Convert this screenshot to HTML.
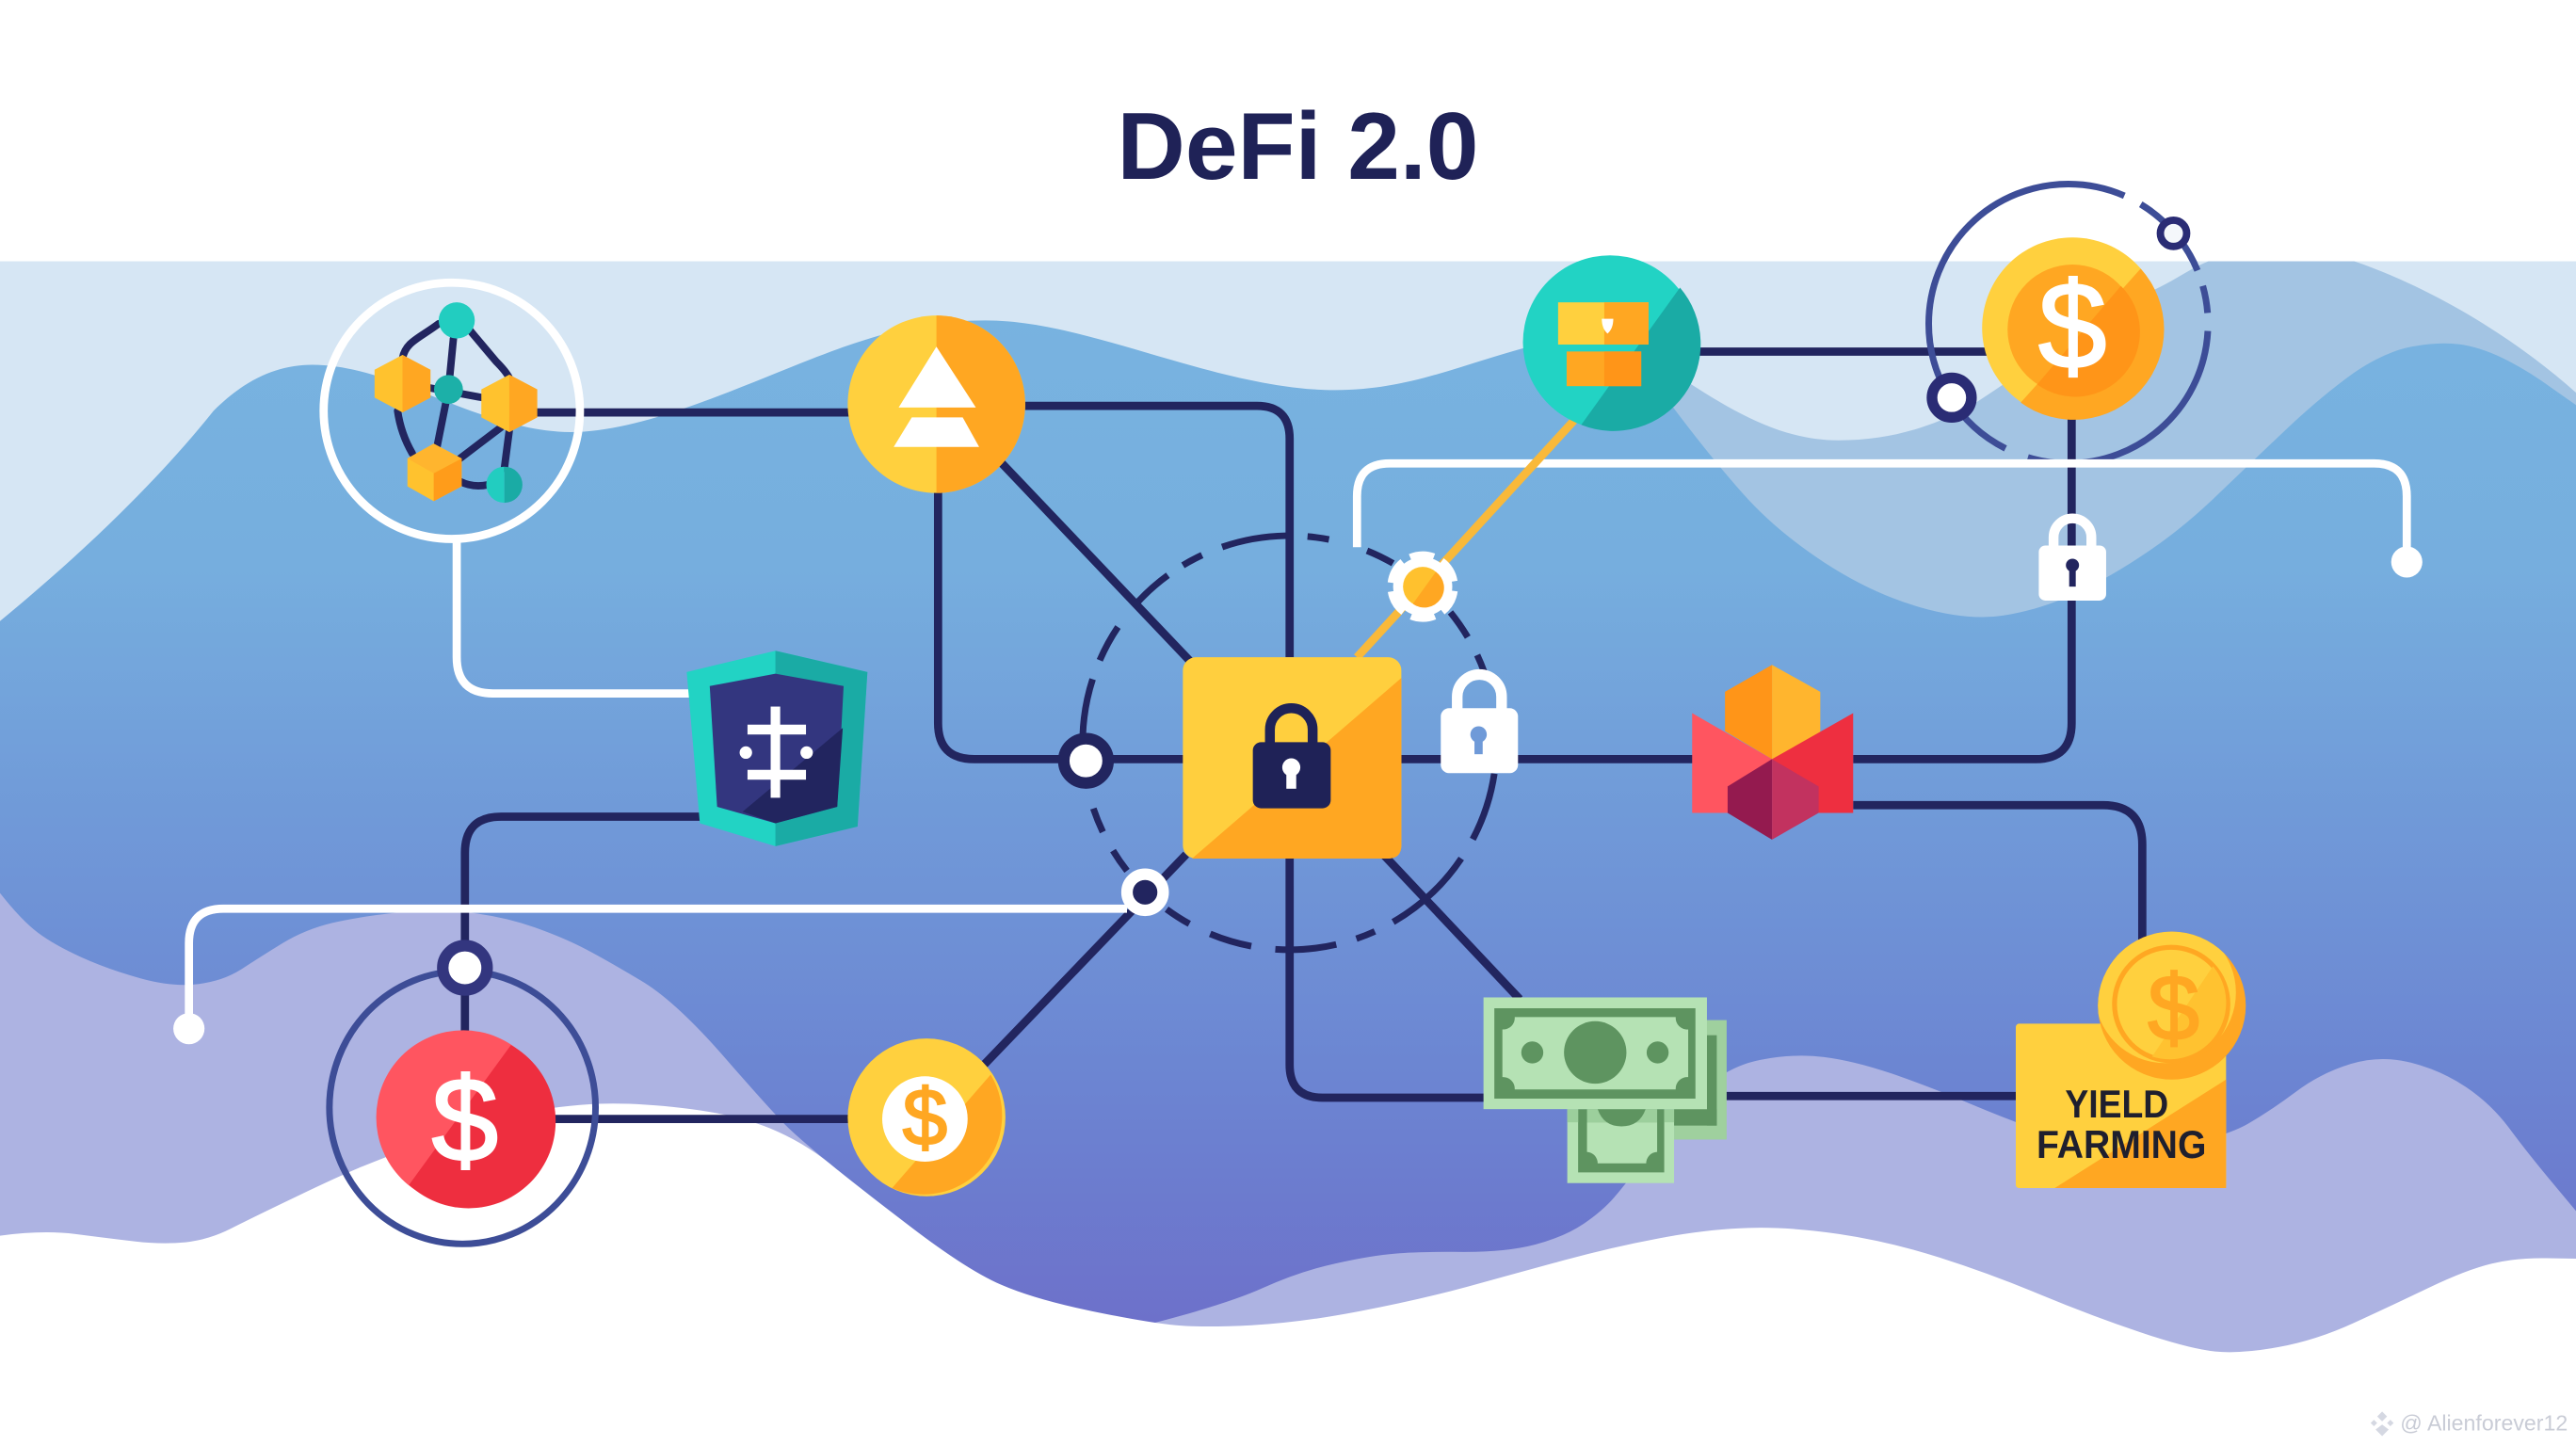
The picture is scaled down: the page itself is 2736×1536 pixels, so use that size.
<!DOCTYPE html>
<html><head><meta charset="utf-8"><title>DeFi 2.0</title>
<style>html,body{margin:0;padding:0;background:#fff;width:2736px;height:1536px;overflow:hidden}svg{display:block}text{font-family:"Liberation Sans",sans-serif}</style>
</head><body>
<svg xmlns="http://www.w3.org/2000/svg" width="2736" height="1536" viewBox="0 0 1568 880" preserveAspectRatio="none">
<defs>
<linearGradient id="main" x1="0" y1="190" x2="0" y2="810" gradientUnits="userSpaceOnUse">
<stop offset="0" stop-color="#78b3e0"/><stop offset=".25" stop-color="#76aede"/><stop offset=".5" stop-color="#7099d8"/><stop offset=".75" stop-color="#6c85d2"/><stop offset="1" stop-color="#6d70ca"/>
</linearGradient>
<clipPath id="yc"><circle cx="1322" cy="612" r="45"/></clipPath>
</defs>
<rect width="1568" height="880" fill="#fff"/>
<rect y="159" width="1568" height="640" fill="#d6e6f4"/>
<!-- medium wave -->
<path d="M1000 215C1040 240 1075 268 1119 268C1150 268 1175 260 1198 248C1240 222 1275 190 1312 176C1330 168 1340 156 1370 153C1400 150 1420 155 1433 159C1480 175 1530 205 1568 239V500H1000Z" fill="#a3c4e3"/>
<!-- main wave -->
<path d="M0 378C40 345 90 300 130 250C150 230 170 222 190 222C240 222 290 262 347 263C400 263 470 225 523 208C550 199 575 195 600 195C660 195 730 232 800 237C850 240 880 225 927 212C960 205 990 225 1017 246Q1041 278 1061 300.500Q1081 323 1110 342Q1139 361 1168.500 369.500Q1198 378 1220 374.500Q1242 371 1263.500 361Q1285 351 1307 336Q1329.500 321 1352 299Q1375 277 1394 259Q1413.600 240.700 1432.600 227Q1451.700 214 1468 211Q1484 208 1496.500 209.500Q1509 211 1523.500 218Q1538 225 1553 236L1568 246.500V860H0Z" fill="url(#main)"/>
<!-- lavender wave -->
<path d="M0 543.500Q13 560 22.900 567.500Q32.800 575 49.400 582.500Q66 590 85.500 595.400Q105 600.800 120.500 598.900Q136 597 147 589.800Q158 582.600 172 574Q186 565.500 202.500 561.600Q219 557.800 242 555.400Q265 553 286 555.400Q307 557.800 325.500 564.400Q344 571 356.800 577.800Q369.600 584.500 390 596.700Q411 609 441.500 644Q472 679 480.500 687Q489 695 505.500 708.500L530 735L600 790L699 806Q747 793.700 769 783.700Q791 773.700 813 768.900Q835 764 849.500 762.900Q864 761.700 890.500 761.900Q917 762 934.500 757.400Q952 752.700 963.700 744.900Q975.400 737 982.700 728.500Q990 720 1005 700Q1020 680 1035.500 664.500Q1051 649 1071.500 645Q1092 641 1110.300 643.300Q1128.600 645.600 1151.300 653.300Q1174 661 1200 672Q1226 683 1258 694Q1290 705 1322 698.400Q1354.600 691.800 1368.300 683.900Q1382 676 1397.400 664.500Q1412.700 653 1430.900 647.500Q1449 642 1467.500 646.700Q1486 651.400 1501.300 661.700Q1516.500 672 1527.300 686.500Q1538 701 1553 719L1568 737V880H0Z" fill="#adb3e2"/>
<!-- white bottom -->
<path d="M0 752Q26 748.500 46 751Q66 753.600 82.400 755.500Q98.700 757.400 112.900 756Q127 754.500 140.300 747.800Q153.600 741 180.800 728Q208 715 220.300 710Q232.500 705 258.800 695Q285 685 310 679.200Q335 673.400 359 672Q383 670.500 415.300 674.300Q447.600 678 468.300 686.500Q489 695 505.500 708.500Q522 722 555.500 747.500Q589 773 609.500 781.900Q630 790.800 664.500 797.900Q699 805 715.900 806.500Q732.700 808 761.900 806.500Q791 805 827.500 798Q864 791 893.300 783Q922.600 775 951.800 767Q981 759 1010.300 753.500Q1039.600 748 1064.300 747.300Q1089 746.500 1119.500 751Q1150 755.500 1180.500 765.300Q1211 775 1241.500 787.700Q1272 800.400 1302.500 810.700Q1333 821 1348.500 822.500Q1364 824 1387 819.800Q1410 815.600 1432.800 805.100Q1455.600 794.600 1478.600 783.600Q1501.600 772.600 1516.800 769Q1532 765.400 1550 765.700L1568 766V880H0Z" fill="#fff"/>
<rect width="1568" height="159" fill="#fff"/>

<text x="790" y="109" text-anchor="middle" font-size="58" font-weight="700" fill="#1f2257" textLength="220" lengthAdjust="spacingAndGlyphs">DeFi 2.0</text>

<!-- connectors -->
<g fill="none" stroke="#22255f" stroke-width="5">
<path d="M325 251H520"/>
<path d="M624 247H765Q785 247 785 267V400"/>
<path d="M608 280L725 403"/>
<path d="M571 298V440Q571 462 593 462H722"/>
<path d="M785 520V648Q785 668 805 668H905"/>
<path d="M842 520L925 608"/>
<path d="M722 520L597 650"/>
<path d="M853 462H1032"/>
<path d="M1033 214H1210"/>
<path d="M1261 253V440Q1261 462 1239 462H1128"/>
<path d="M1128 490H1280Q1304 490 1304 514V575"/>
<path d="M1050 667H1228"/>
<path d="M428 497H305Q283 497 283 519V632"/>
<path d="M335 681H520"/>
</g>
<!-- dashed circle -->
<circle cx="785" cy="452" r="126" fill="none" stroke="#22255f" stroke-width="4" pathLength="360" stroke-dasharray="19.2 6.2 26 5.7 5.5 5.8 17 6.7 11.9 6.4 7.5 15.3 6.8 5.9 7 20.5 15.9 5.6 10.5 8.8 11.2 5 6 6 18 6 6 11 8 21 8.4 5.6 5 28.6" stroke-dashoffset="-8.6"/>
<!-- top right ring -->
<circle cx="1259" cy="197" r="85" fill="none" stroke="#3d4d97" stroke-width="4" pathLength="360" stroke-dasharray="104 9.9 177.1 7.6 36.4 6.7 11.3 7" stroke-dashoffset="-3"/>
<!-- white connectors -->
<g fill="none" stroke="#fff" stroke-width="5">
<circle cx="275" cy="250" r="78"/>
<path d="M278 330V400Q278 422 300 422H428"/>
<path d="M826 333V302Q826 282 846 282H1445Q1465 282 1465 302V342"/>
<path d="M115 626V574Q115 553 136 553H686"/>
</g>
<circle cx="1465" cy="342" r="9.5" fill="#fff"/>
<circle cx="115" cy="626" r="9.5" fill="#fff"/>
<path d="M826 400L958 256" stroke="#f9b93a" stroke-width="5" fill="none"/>

<!-- network icon -->
<g fill="none" stroke="#22255f" stroke-width="4.500" stroke-linecap="round">
<path d="M267 197C255 206 247 208 245 218"/>
<path d="M276 206L273 237"/>
<path d="M286 201L302 220Q308 226 310 230"/>
<path d="M245 233L310 245"/>
<path d="M273 237L266 272"/>
<path d="M242 250Q244 264 251 276"/>
<path d="M305 260L280 279"/>
<path d="M310 262L307 285"/>
<path d="M280 293Q288 297 297 295"/>
</g>
<circle cx="278" cy="195" r="11" fill="#22cdc0"/>
<circle cx="273" cy="237" r="8.8" fill="#1cb0a8"/>
<path d="M307 284A11 11 0 0 0 307 306Z" fill="#22cdc0"/><path d="M307 284A11 11 0 0 1 307 306Z" fill="#1aaba5"/>
<polygon points="245,216 262,225 262,242 245,251 228,242 228,225" fill="#ffc22e"/><polygon points="245,216 262,225 262,242 245,251" fill="#ffa722"/>
<polygon points="310,228 327,237 327,254 310,263 293,254 293,237" fill="#ffc22e"/><polygon points="310,228 327,237 327,254 310,263" fill="#ffa722"/>
<polygon points="264,270 281,279 281,296 264,305 248,296 248,279" fill="#ffc22e"/><polygon points="264,270 281,279 264,288 248,279" fill="#ffb52e"/><polygon points="281,279 281,296 264,305 264,288" fill="#ff9c1a"/>

<!-- triangle coin -->
<circle cx="570" cy="246" r="54" fill="#ffd03e"/><path d="M570 192A54 54 0 0 1 570 300Z" fill="#ffa722"/>
<polygon points="570,211 594,248 547,248" fill="#fff"/><polygon points="555,254 586,254 596,272 544,272" fill="#fff"/>

<!-- shield -->
<path d="M472 396L528 409L522 503L472 515L426 501L418 409Z" fill="#22d3c4"/><path d="M472 396L528 409L522 503L472 515Z" fill="#1aaba5"/>
<path d="M472 410L513.500 417.500L509.600 491L472 501L436.500 491L432 417.500Z" fill="#33367f"/><path d="M513 443L509.600 491L472 501L452 494Z" fill="#22255f"/>
<g fill="#fff"><rect x="469.100" y="430" width="5.800" height="55.500"/><rect x="455" y="441" width="35.600" height="6"/><rect x="455" y="468.500" width="35.600" height="6"/><circle cx="454" cy="458" r="3.800"/><circle cx="491" cy="458" r="3.800"/></g>

<!-- lock box -->
<rect x="720" y="400" width="133" height="122.500" rx="8" fill="#ffcf3e"/>
<path d="M853 412.600V514.500Q853 522.500 845 522.500H725.600Z" fill="#ffa722"/>
<path d="M773 452V444A13 13 0 0 1 799 444V452" fill="none" stroke="#1f2257" stroke-width="6"/>
<rect x="762.600" y="451.700" width="47.400" height="40.200" rx="5" fill="#1f2257"/>
<circle cx="786" cy="467" r="5.500" fill="#fff"/><rect x="783" y="468" width="6" height="12" fill="#fff"/>

<!-- nodes -->
<circle cx="661" cy="463" r="13.500" fill="#fff" stroke="#22255f" stroke-width="7"/>
<circle cx="697" cy="543" r="11" fill="#22255f" stroke="#fff" stroke-width="7"/>
<circle cx="1188" cy="242" r="12" fill="#fff" stroke="#2a2c75" stroke-width="6.500"/>
<circle cx="1323" cy="142" r="8" fill="#f4f7fb" stroke="#2a2c75" stroke-width="4.500"/>

<!-- gear -->
<circle cx="866" cy="357" r="18" fill="#fff"/>
<circle cx="866" cy="357" r="19" fill="none" stroke="#fff" stroke-width="5" pathLength="360" stroke-dasharray="44 16" stroke-dashoffset="-8"/>
<circle cx="866" cy="357" r="12" fill="#ffc12e"/><path d="M874 348A12 12 0 0 1 860 367.500Z" fill="#ffa722"/>

<!-- white padlock -->
<path d="M887 434V424A13.500 13.500 0 0 1 914 424V434" fill="none" stroke="#fff" stroke-width="6.500"/>
<rect x="877" y="431" width="47" height="39.500" rx="5" fill="#fff"/>
<circle cx="900" cy="447" r="5" fill="#6f9ad8"/><rect x="897.500" y="449" width="5" height="10" fill="#6f9ad8"/>

<!-- hex icon -->
<polygon points="1078.600,404.600 1108,421 1108,462 1078.600,462" fill="#ffb52e"/><polygon points="1078.600,404.600 1050,421 1050,445 1078.600,462" fill="#ff9518"/>
<polygon points="1030,434 1078.600,462 1051.600,494.700 1030,494.700" fill="#ff5560"/>
<polygon points="1128,434 1078.600,462 1107,494.700 1128,494.700" fill="#ee2f40"/>
<polygon points="1078.600,462 1051.600,478.600 1051.600,494.700 1078.600,511" fill="#941a4f"/>
<polygon points="1078.600,462 1107,478.600 1107,494.700 1078.600,511" fill="#c2325f"/>

<!-- teal circle -->
<circle cx="980" cy="208.400" r="53" fill="#22d3c4"/><path d="M1022.600 175A53 53 0 0 1 962.500 258.500Z" fill="#1aaba5"/>
<rect x="948.400" y="184" width="55.100" height="25.700" fill="#ffd03e"/><rect x="976.500" y="184" width="27" height="25.700" fill="#ffa722"/>
<rect x="953.600" y="213.900" width="45.400" height="21.100" fill="#ffa722"/><rect x="976.500" y="213.900" width="22.500" height="21.100" fill="#ff9518"/>
<path d="M975 194H982Q982 200 978.500 203Q975 200 975 194Z" fill="#fff"/>

<!-- top right coin -->
<circle cx="1261.500" cy="199.500" r="55" fill="#ffd03e"/>
<path d="M1303 163.500A55 55 0 0 1 1230 245Z" fill="#ffa722"/>
<circle cx="1261.500" cy="200.500" r="39.500" fill="#ffa722"/>
<path d="M1291 174A39.500 39.500 0 0 1 1240 234Z" fill="#ff9518"/>
<text x="1261.500" y="224" text-anchor="middle" font-size="75" fill="#fff" stroke="#fff" stroke-width="1.200">$</text>

<!-- padlock top right -->
<path d="M1250 340V327A11.500 11.500 0 0 1 1273 327V340" fill="none" stroke="#fff" stroke-width="6"/>
<rect x="1241" y="332" width="41" height="33.500" rx="4" fill="#fff"/>
<circle cx="1261.500" cy="344" r="4" fill="#22255f"/><rect x="1259.500" y="345" width="4" height="12" fill="#22255f"/>

<!-- lower left ring + red coin -->
<ellipse cx="281.500" cy="674" rx="81" ry="83" fill="none" stroke="#3d4d97" stroke-width="4"/>
<circle cx="283" cy="589" r="13.500" fill="#fff" stroke="#33367f" stroke-width="7"/>
<circle cx="282" cy="680" r="53" fill="#ff5560"/>
<path d="M311 636A53 53 0 1 1 249 721Z" fill="#ee2e3f"/>
<text x="283" y="706.500" text-anchor="middle" font-size="73" fill="#fff" stroke="#fff" stroke-width="1.200">$</text>

<!-- small yellow coin -->
<circle cx="564" cy="680" r="48" fill="#ffd03e"/>
<path d="M603 654A48 48 0 0 1 543 723Z" fill="#ffa722"/>
<circle cx="563" cy="681" r="26" fill="#fff"/>
<text x="563" y="696.700" text-anchor="middle" font-size="49" fill="#ffa722" stroke="#ffa722" stroke-width="1.200">$</text>

<!-- money -->
<rect x="1019" y="620.800" width="32" height="72.700" fill="#9fd09e"/>
<rect x="1039" y="630" width="6" height="55" fill="#5e9460"/>
<rect x="1019" y="675" width="26" height="10" fill="#5e9460"/>
<rect x="954" y="675" width="65" height="45" fill="#b5e2b4"/>
<rect x="960.600" y="675" width="52.400" height="38.500" fill="#5e9460"/>
<path d="M966 683H1008.700V701A7 7 0 0 0 1002 708H972.500A7 7 0 0 0 966 701Z" fill="#b5e2b4"/>
<rect x="954" y="675" width="6.600" height="8" fill="#9ccf9c"/><rect x="1013" y="675" width="6" height="8" fill="#9ccf9c"/>
<rect x="966" y="675" width="42.700" height="8" fill="#9ccf9c"/>
<path d="M972.500 675Q976 685.500 987 685.500Q998 685.500 1001.700 675Z" fill="#5e9460"/>
<rect x="903" y="607" width="136" height="68" fill="#b5e2b4"/>
<rect x="909.600" y="613.600" width="122.400" height="55" fill="#5e9460"/>
<path d="M922 619H1020A7 7 0 0 0 1027.600 626.500V655.500A7 7 0 0 0 1020 663H922A7 7 0 0 0 914.500 655.500V626.500A7 7 0 0 0 922 619Z" fill="#b5e2b4"/>
<ellipse cx="971" cy="640.500" rx="19" ry="19" fill="#5e9460"/>
<circle cx="932.700" cy="640.500" r="6.700" fill="#5e9460"/><circle cx="1009" cy="640.500" r="6.700" fill="#5e9460"/>

<!-- yield farming -->
<rect x="1227" y="623" width="128" height="100" rx="2" fill="#ffd03e"/>
<path d="M1355 657V723H1250.700Z" fill="#ffa722"/>
<circle cx="1322" cy="612" r="45" fill="#ffa722"/>
<circle cx="1318" cy="604" r="43" fill="#ffd03e" clip-path="url(#yc)"/>
<circle cx="1321.600" cy="611" r="34.500" fill="#ffd03e" stroke="#ffa722" stroke-width="3"/>
<path d="M1347 588A34.500 34.500 0 0 1 1310 643Z" fill="#ffc230"/>
<text x="1323" y="632.700" text-anchor="middle" font-size="57" font-weight="400" fill="#ffa722" stroke="#ffa722" stroke-width="1">$</text>
<text x="1257" y="680" font-size="24" font-weight="700" fill="#1f1f2e" textLength="63" lengthAdjust="spacingAndGlyphs">YIELD</text>
<text x="1239.600" y="704.700" font-size="24" font-weight="700" fill="#1f1f2e" textLength="103.400" lengthAdjust="spacingAndGlyphs">FARMING</text>

<!-- watermark -->
<g fill="#d5d8e2">
<polygon points="1450,859 1453,862 1450,865 1447,862"/><polygon points="1445,864 1447,866 1445,868 1443,866"/><polygon points="1455,864 1457,866 1455,868 1453,866"/><polygon points="1450,867 1454,870 1450,874 1446,870"/>
<text x="1461" y="870.500" font-size="13.500" textLength="102" lengthAdjust="spacingAndGlyphs" fill="#c9ccd6">@ Alienforever12</text>
</g>
</svg>
</body></html>
